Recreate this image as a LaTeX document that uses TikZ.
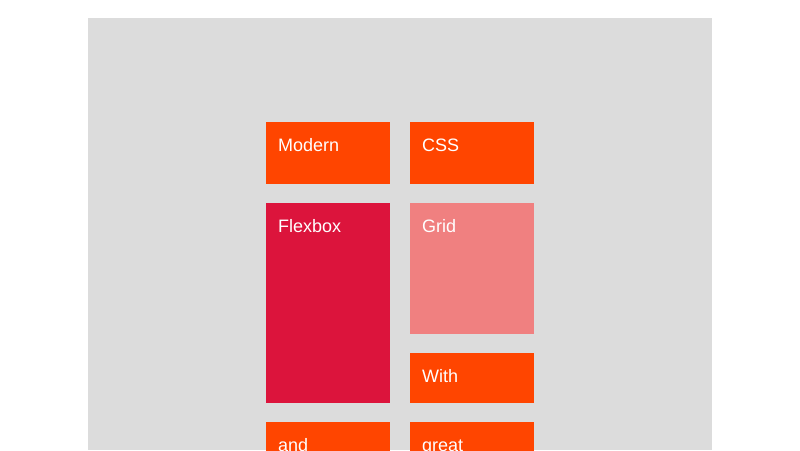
\documentclass[tikz,border=0pt]{standalone}
\usepackage{fontspec}
\setmainfont{Liberation Sans}
\definecolor{orangered}{HTML}{FF4500}
\definecolor{crimsonred}{HTML}{DC143C}
\definecolor{lightcoral}{HTML}{F08080}
\definecolor{gainsboro}{HTML}{DCDCDC}
\begin{document}
\begin{tikzpicture}[x=1pt,y=-1pt]

      \useasboundingbox (0,0) rectangle (800,450);
      \fill[gainsboro] (88,18) rectangle (712,450);

      \begin{scope}[every node/.style={draw=none,anchor=north west,inner sep=0pt,minimum width=124.5pt}]
        \node[fill=orangered,minimum height=62pt]   (modern)  at (265.5,122) {};
        \node[fill=orangered,minimum height=62pt]   (css)     at (409.5,122) {};
        \node[fill=crimsonred,minimum height=200pt] (flexbox) at (265.5,203) {};
        \node[fill=lightcoral,minimum height=131pt] (grid)    at (409.5,203) {};
        \node[fill=orangered,minimum height=50pt]   (with)    at (409.5,353) {};
        \node[fill=orangered,minimum height=40pt]   (and)     at (265.5,422) {};
        \node[fill=orangered,minimum height=40pt]   (great)   at (409.5,422) {};
      \end{scope}

      \begin{scope}[every node/.style={anchor=base west,inner sep=0pt,text=white,font=\fontsize{18pt}{20pt}\selectfont}]
        \node (t1) at ([xshift=12.5pt,yshift=-29pt]modern.north west)  {Modern};
        \node (t2) at ([xshift=12.5pt,yshift=-29pt]css.north west)     {CSS};
        \node (t3) at ([xshift=12.5pt,yshift=-29pt]flexbox.north west) {Flexbox};
        \node (t4) at ([xshift=12.5pt,yshift=-29pt]grid.north west)    {Grid};
        \node (t5) at ([xshift=12.5pt,yshift=-29pt]with.north west)    {With};
        \node (t6) at ([xshift=12.5pt,yshift=-29pt]and.north west)     {and};
        \node (t7) at ([xshift=12.5pt,yshift=-29pt]great.north west)   {great};
      \end{scope}

    \end{tikzpicture}
\end{document}
